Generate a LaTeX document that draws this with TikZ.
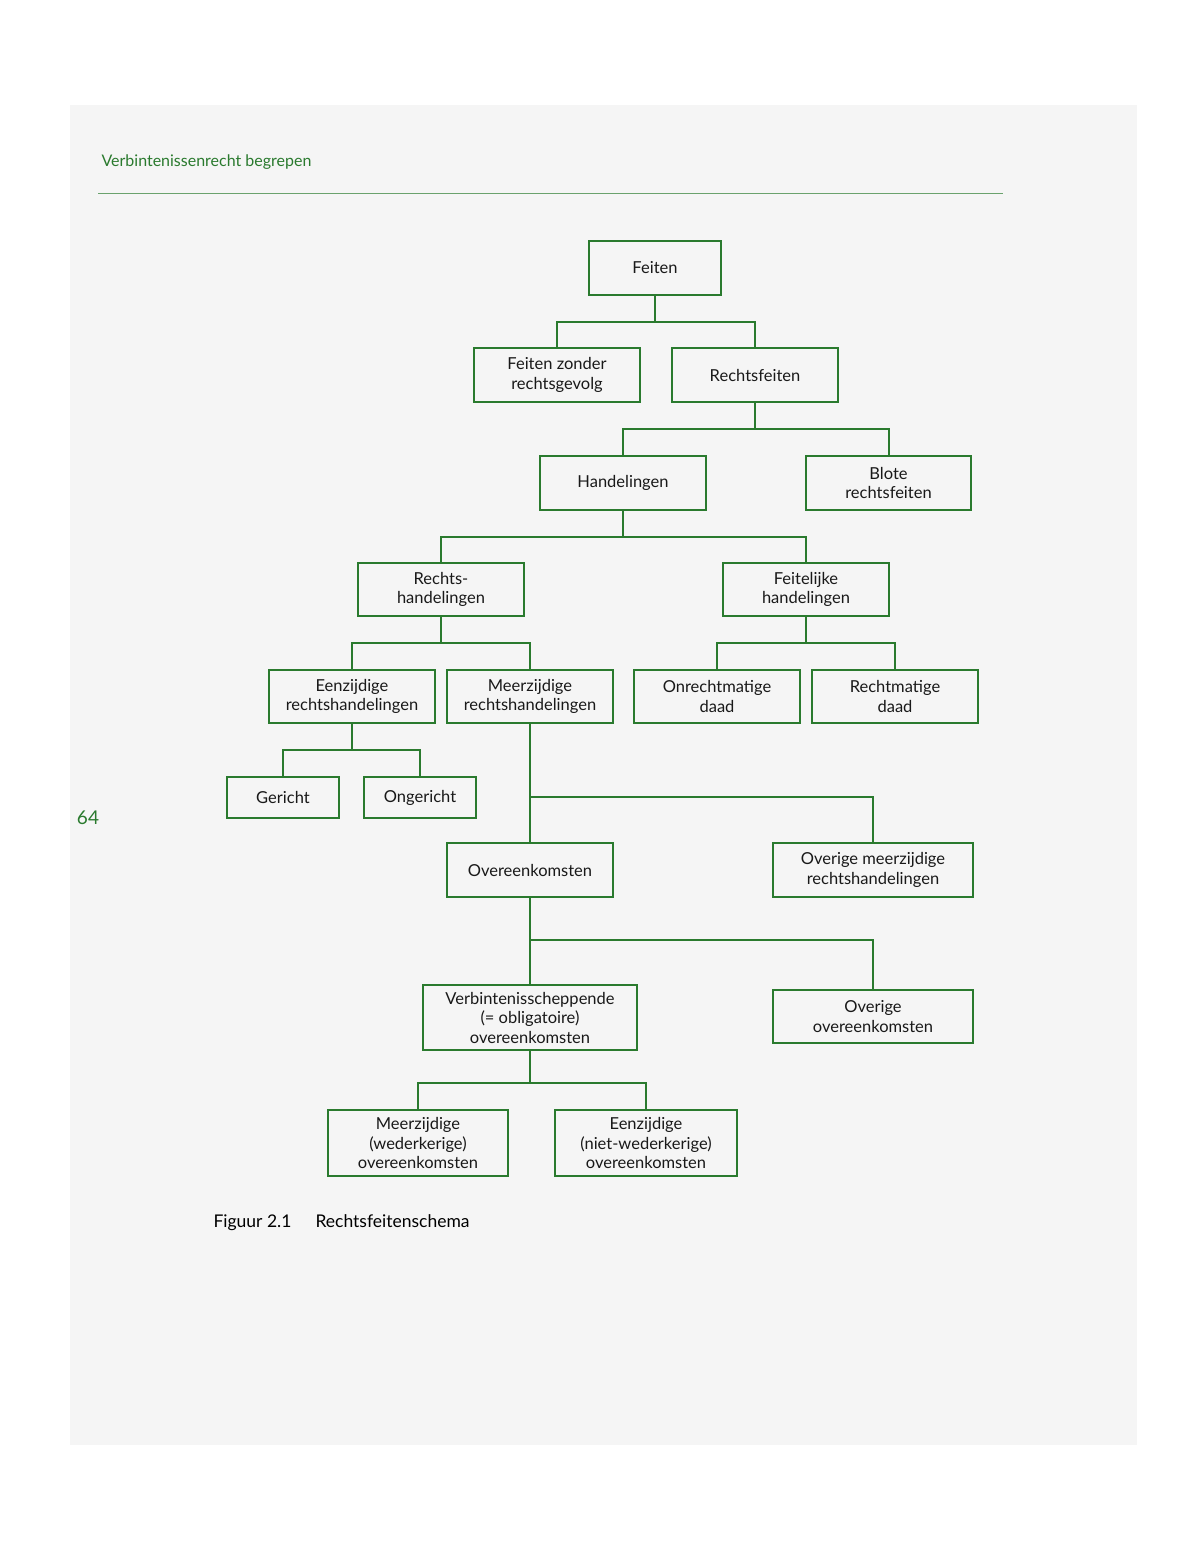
\documentclass[tikz,border=0pt]{standalone}
\usepackage{fontspec}
\setmainfont{Lato}
\definecolor{gr}{HTML}{2A7A2E}
\begin{document}
\begin{tikzpicture}[x=1pt,y=-1pt,
  bx/.style={draw=gr,line width=2pt,align=center,inner sep=0pt,font=\fontsize{16.5}{19.5}\selectfont,text=black!90},
  ln/.style={draw=gr,line width=2pt}]
\useasboundingbox (0,0) rectangle (1200,1553);
\fill[white] (0,0) rectangle (1200,1553);
\fill[black!4] (70,105) rectangle (1137,1445);
\node[anchor=west,text=gr,font=\fontsize{16}{18}\selectfont] (hd) at (98,162) {Verbintenissenrecht begrepen};
\draw[gr!70,line width=0.8pt] (98,193) -- (1003,193);
\node[text=gr,font=\fontsize{19}{20}\selectfont] (pg) at (88,818) {64};
\node[anchor=west,font=\fontsize{17.5}{18}\selectfont] (cap) at (210,1223) {Figuur 2.1\hspace{24pt}Rechtsfeitenschema};
\newcommand{\bx}[6]{\node[bx,minimum width=#4-#2,minimum height=#5-#3] (#1) at ({(#2+#4)/2},{(#3+#5)/2}) {#6};}
\bx{f}{589}{241}{721}{295}{Feiten}
\bx{fz}{474}{348}{640}{402}{Feiten zonder\\rechtsgevolg}
\bx{rf}{672}{348}{838}{402}{Rechtsfeiten}
\bx{h}{540}{456}{706}{510}{Handelingen}
\bx{br}{806}{456}{971}{510}{Blote\\rechtsfeiten}
\bx{rh}{358}{563}{524}{616}{Rechts-\\handelingen}
\bx{fh}{723}{563}{889}{616}{Feitelijke\\handelingen}
\bx{ez}{269}{670}{435}{723}{Eenzijdige\\rechtshandelingen}
\bx{mz}{447}{670}{613}{723}{Meerzijdige\\rechtshandelingen}
\bx{od}{634}{670}{800}{723}{Onrechtmatige\\daad}
\bx{rd}{812}{670}{978}{723}{Rechtmatige\\daad}
\bx{ge}{227}{777}{339}{818}{Gericht}
\bx{og}{364}{777}{476}{818}{Ongericht}
\bx{ov}{447}{843}{613}{897}{Overeenkomsten}
\bx{om}{773}{843}{973}{897}{Overige meerzijdige\\rechtshandelingen}
\bx{vs}{423}{985}{637}{1050}{Verbintenisscheppende\\(= obligatoire)\\overeenkomsten}
\bx{oo}{773}{990}{973}{1043}{Overige\\overeenkomsten}
\bx{mw}{328}{1110}{508}{1176}{Meerzijdige\\(wederkerige)\\overeenkomsten}
\bx{ew}{555}{1110}{737}{1176}{Eenzijdige\\(niet-wederkerige)\\overeenkomsten}
\draw[ln] (f.south) -- (655,322) coordinate (a1);
\draw[ln] (fz.north) |- (a1) -| (rf.north);
\draw[ln] (rf.south) -- (755,429) coordinate (a2);
\draw[ln] (h.north) |- (a2) -| (br.north);
\draw[ln] (h.south) -- (623,537) coordinate (a3);
\draw[ln] (rh.north) |- (a3) -| (fh.north);
\draw[ln] (rh.south) -- (441,643) coordinate (a4);
\draw[ln] (ez.north) |- (a4) -| (mz.north);
\draw[ln] (fh.south) -- (806,643) coordinate (a5);
\draw[ln] (od.north) |- (a5) -| (rd.north);
\draw[ln] (ez.south) -- (352,750) coordinate (a6);
\draw[ln] (ge.north) |- (a6) -| (og.north);
\draw[ln] (mz.south) -- (ov.north);
\coordinate (a7) at (530,797);
\draw[ln] (a7) -| (om.north);
\draw[ln] (ov.south) -- (vs.north);
\coordinate (a8) at (530,940);
\draw[ln] (a8) -| (oo.north);
\draw[ln] (vs.south) -- (530,1083) coordinate (a9);
\draw[ln] (mw.north) |- (a9) -| (ew.north);
\end{tikzpicture}
\end{document}
